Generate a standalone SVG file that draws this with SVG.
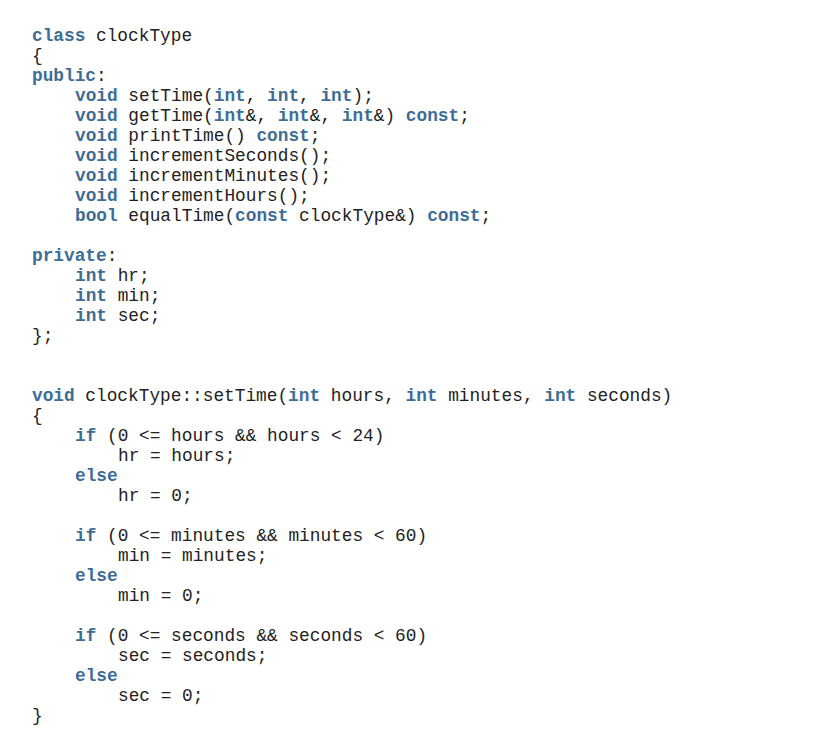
<svg xmlns="http://www.w3.org/2000/svg" width="816" height="747" viewBox="0 0 816 747">
<style>
text{font-family:"Liberation Mono","Courier New",monospace;font-size:17.8px;fill:#222;white-space:pre}
.k{fill:#3d6d94;font-weight:bold}
</style>
<rect width="816" height="747" fill="#fff"/>
<g id="code" xml:space="preserve">
<text x="32" y="41"><tspan class="k">class</tspan> clockType</text>
<text x="32" y="61">{</text>
<text x="32" y="81"><tspan class="k">public</tspan>:</text>
<text x="75" y="101"><tspan class="k">void</tspan> setTime(<tspan class="k">int</tspan>, <tspan class="k">int</tspan>, <tspan class="k">int</tspan>);</text>
<text x="75" y="121"><tspan class="k">void</tspan> getTime(<tspan class="k">int</tspan>&amp;, <tspan class="k">int</tspan>&amp;, <tspan class="k">int</tspan>&amp;) <tspan class="k">const</tspan>;</text>
<text x="75" y="141"><tspan class="k">void</tspan> printTime() <tspan class="k">const</tspan>;</text>
<text x="75" y="161"><tspan class="k">void</tspan> incrementSeconds();</text>
<text x="75" y="181"><tspan class="k">void</tspan> incrementMinutes();</text>
<text x="75" y="201"><tspan class="k">void</tspan> incrementHours();</text>
<text x="75" y="221"><tspan class="k">bool</tspan> equalTime(<tspan class="k">const</tspan> clockType&amp;) <tspan class="k">const</tspan>;</text>
<text x="32" y="261"><tspan class="k">private</tspan>:</text>
<text x="75" y="281"><tspan class="k">int</tspan> hr;</text>
<text x="75" y="301"><tspan class="k">int</tspan> min;</text>
<text x="75" y="321"><tspan class="k">int</tspan> sec;</text>
<text x="32" y="341">};</text>
<text x="32" y="401"><tspan class="k">void</tspan> clockType::setTime(<tspan class="k">int</tspan> hours, <tspan class="k">int</tspan> minutes, <tspan class="k">int</tspan> seconds)</text>
<text x="32" y="421">{</text>
<text x="75" y="441"><tspan class="k">if</tspan> (0 &lt;= hours &amp;&amp; hours &lt; 24)</text>
<text x="118" y="461">hr = hours;</text>
<text x="75" y="481"><tspan class="k">else</tspan></text>
<text x="118" y="501">hr = 0;</text>
<text x="75" y="541"><tspan class="k">if</tspan> (0 &lt;= minutes &amp;&amp; minutes &lt; 60)</text>
<text x="118" y="561">min = minutes;</text>
<text x="75" y="581"><tspan class="k">else</tspan></text>
<text x="118" y="601">min = 0;</text>
<text x="75" y="641"><tspan class="k">if</tspan> (0 &lt;= seconds &amp;&amp; seconds &lt; 60)</text>
<text x="118" y="661">sec = seconds;</text>
<text x="75" y="681"><tspan class="k">else</tspan></text>
<text x="118" y="701">sec = 0;</text>
<text x="32" y="721">}</text>
</g>
</svg>
